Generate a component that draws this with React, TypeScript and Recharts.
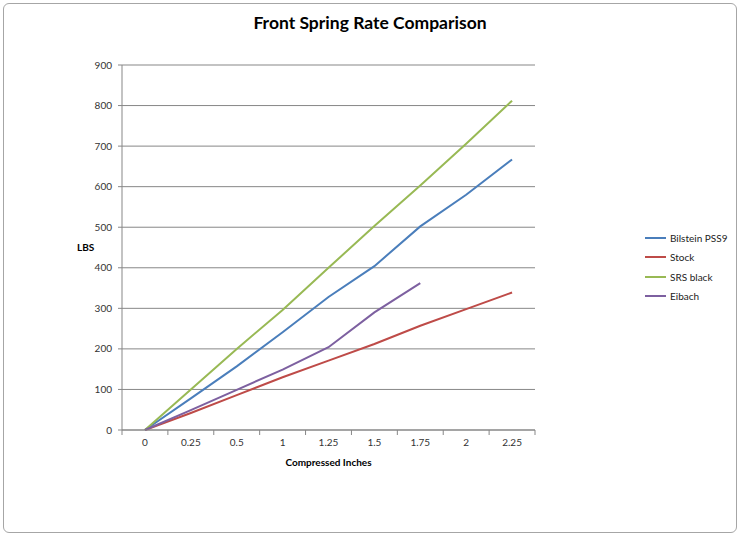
import { CartesianGrid, Legend, Line, LineChart, XAxis, YAxis } from 'recharts';

const inches = ['0', '0.25', '0.5', '1', '1.25', '1.5', '1.75', '2', '2.25'];
const bilstein = [0, 78, 157, 241, 328, 404, 502, 580, 667];
const stock = [0, 42, 86, 130, 171, 212, 257, 298, 339];
const srsBlack = [0, 100, 200, 296, 400, 503, 603, 706, 812];
const eibach = [0, 49, 99, 149, 204, 290, 362, null, null];
const seriesNames = ['Bilstein PSS9', 'Stock', 'SRS black', 'Eibach'];
const yTicks = [0, 100, 200, 300, 400, 500, 600, 700, 800, 900];

const FONT = 'Lato, "Open Sans", sans-serif';
const GRID = '#878787';

const data = inches.map((label, i) => ({
  i,
  label,
  bilstein: bilstein[i],
  stock: stock[i],
  srs: srsBlack[i],
  eibach: eibach[i],
}));

// tick marks sit between categories, labels sit on them
const xTicks = inches.flatMap((_, i) => [i - 0.5, i]).concat([inches.length - 0.5]);

function CategoryTick(props: any) {
  const { x, y, payload } = props;
  const v = payload.value as number;
  if (!Number.isInteger(v)) {
    return <line x1={x} y1={y} x2={x} y2={y + 5} stroke={GRID} strokeWidth={1} />;
  }
  return (
    <text x={x} y={y + 16} textAnchor="middle" fontSize={10} fill="#333" fontFamily={FONT}>
      {inches[v]}
    </text>
  );
}

function LegendBox({ payload }: any) {
  const items = [...(payload ?? [])].sort(
    (a: any, b: any) => seriesNames.indexOf(a.value) - seriesNames.indexOf(b.value),
  );
  return (
    <div style={{ fontFamily: FONT, fontSize: 10, color: '#222' }}>
      {items.map((p: any) => (
        <div key={p.value} style={{ display: 'flex', alignItems: 'center', height: 19.5 }}>
          <span style={{ display: 'inline-block', width: 21, height: 2, background: p.color, marginRight: 4 }} />
          {p.value}
        </div>
      ))}
    </div>
  );
}

export default function App() {
  return (
    <div style={{ position: 'absolute', left: 0, top: 0, width: 740, height: 540, background: '#fff' }}>
      <div
        style={{
          position: 'absolute',
          left: 3,
          top: 3,
          width: 732,
          height: 528,
          border: '1px solid #a6a6a6',
          borderRadius: 6,
        }}
      />
      <div
        style={{
          position: 'absolute',
          left: 0,
          top: 12,
          width: 740,
          textAlign: 'center',
          fontFamily: FONT,
          fontWeight: 700,
          fontSize: 17.5,
          color: '#000',
        }}
      >
        Front Spring Rate Comparison
      </div>
      <LineChart
        width={740}
        height={540}
        data={data}
        margin={{ top: 65, right: 115, left: 0, bottom: 70 }}
        style={{ position: 'absolute', left: 0, top: 0 }}
      >
        <CartesianGrid vertical={false} stroke={GRID} strokeWidth={1} />
        <XAxis
          dataKey="i"
          type="number"
          domain={[-0.5, inches.length - 0.5]}
          ticks={xTicks}
          interval={0}
          tick={<CategoryTick />}
          tickLine={false}
          tickSize={0}
          tickMargin={0}
          axisLine={{ stroke: GRID }}
          height={40}
          label={{
            value: 'Compressed Inches',
            position: 'insideBottom',
            offset: 4,
            style: { fontFamily: FONT, fontWeight: 700, fontSize: 10, fill: '#000' },
          }}
        />
        <YAxis
          domain={[0, 900]}
          ticks={yTicks}
          width={122}
          tickSize={4}
          tickMargin={6}
          tickLine={{ stroke: GRID }}
          axisLine={{ stroke: GRID }}
          tick={{ fontSize: 10, fill: '#333', fontFamily: FONT }}
          label={{
            value: 'LBS',
            position: 'insideLeft',
            offset: 77,
            style: { fontFamily: FONT, fontWeight: 700, fontSize: 10, fill: '#000' },
          }}
        />
        <Legend
          layout="vertical"
          align="right"
          verticalAlign="top"
          content={<LegendBox />}
          wrapperStyle={{ left: 645, top: 228, width: 90 }}
        />
        <Line dataKey="bilstein" name={seriesNames[0]} stroke="#4a7ebb" strokeWidth={2} dot={false} isAnimationActive={false} />
        <Line dataKey="stock" name={seriesNames[1]} stroke="#be4b48" strokeWidth={2} dot={false} isAnimationActive={false} />
        <Line dataKey="srs" name={seriesNames[2]} stroke="#98b954" strokeWidth={2} dot={false} isAnimationActive={false} />
        <Line dataKey="eibach" name={seriesNames[3]} stroke="#7d60a0" strokeWidth={2} dot={false} isAnimationActive={false} />
      </LineChart>
    </div>
  );
}
